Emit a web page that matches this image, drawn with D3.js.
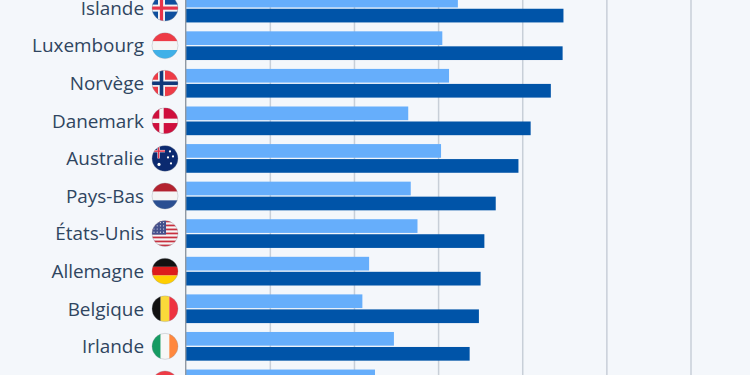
<!DOCTYPE html>
<html><head><meta charset="utf-8">
<script src="https://cdn.jsdelivr.net/npm/d3@7"></script>
<style>html,body{margin:0;padding:0;background:#f4f7fb;overflow:hidden}svg{display:block}</style>
</head><body><svg id="c" width="750" height="375"></svg>
<script>
const countries=["Islande","Luxembourg","Norvège","Danemark","Australie","Pays-Bas","États-Unis","Allemagne","Belgique","Irlande","Autriche"];
const flags=["is","lu","no","dk","au","nl","us","de","be","ie","at"];
const lightValues=[32.35,30.5,31.3,26.45,30.35,26.75,27.55,21.8,21.0,24.75,22.5];
const darkValues=[44.9,44.8,43.4,41.0,39.55,36.85,35.5,35.05,34.85,33.75,33.0];
const gridTicks=[10,20,30,40,50,60];
const W=750,H=375;
const svg=d3.select("#c");
const x=d3.scaleLinear().domain([0,60]).range([185.7,690.5]);
const step=37.58,first=8.1;
const y=d3.scaleBand().domain(countries).range([first-step/2,first+step*(countries.length-.5)]).paddingInner(0).paddingOuter(0);
const inner=d3.scaleBand().domain(["light","dark"]).range([0,step]).paddingInner(0.087).paddingOuter(0.296);

const grid=svg.append("g").call(d3.axisBottom(x).tickValues(gridTicks).tickSize(H+20).tickFormat(""));
grid.select(".domain").remove();
grid.attr("transform","translate(0,-10)").selectAll("line").attr("stroke","#c8cfd8").attr("stroke-width",1.5);

const rows=svg.selectAll("g.row").data(countries).join("g").attr("class","row").attr("transform",d=>`translate(0,${y(d)})`);
rows.append("rect").attr("x",x(0)).attr("y",inner("light")).attr("height",inner.bandwidth()).attr("width",(d,i)=>x(lightValues[i])-x(0)).attr("fill","#66aefb");
rows.append("rect").attr("x",x(0)).attr("y",inner("dark")).attr("height",inner.bandwidth()).attr("width",(d,i)=>x(darkValues[i])-x(0)).attr("fill","#0054a8");

svg.append("line").attr("x1",x(0)).attr("x2",x(0)).attr("y1",0).attr("y2",H).attr("stroke","#8f98a3").attr("stroke-width",1.4);

// The last row sits below the picture's edge: only its flag top and bar show, not its label.
rows.filter((d,i)=>i<countries.length-1).append("text").text(d=>d).attr("x",144).attr("y",step/2).attr("dy","0.36em").attr("text-anchor","end")
 .attr("font-family","'Open Sans'").attr("font-size",18.9).attr("fill","#2f4560");

const R=13;
function r(g,a,b,c,d,f){g.append("rect").attr("x",a).attr("y",b).attr("width",c).attr("height",d).attr("fill",f);}
function hb(g,cols){const n=cols.length;cols.forEach((c,i)=>r(g,-R,-R+i*2*R/n,2*R,2*R/n,c));}
function vb(g,cols){const n=cols.length;cols.forEach((c,i)=>r(g,-R+i*2*R/n,-R,2*R/n,2*R,c));}
function cross(g,bg,out,inn,ow,iw,cx){r(g,-R,-R,2*R,2*R,bg);
 r(g,cx-ow/2,-R,ow,2*R,out);r(g,-R,-ow/2,2*R,ow,out);
 if(inn){r(g,cx-iw/2,-R,iw,2*R,inn);r(g,-R,-iw/2,2*R,iw,inn);}}
const draw={
 is:g=>cross(g,"#0f4f9e","#f2f4f6","#e8344a",7,3.2,-3.5),
 lu:g=>hb(g,["#ee3b46","#f5f5f5","#3fb0e8"]),
 no:g=>cross(g,"#ee3b46","#f2f4f6","#10397a",7,3.6,-3.5),
 dk:g=>cross(g,"#cf0f3c","#f5f5f5",null,4.4,0,-3.5),
 au:g=>{r(g,-R,-R,2*R,2*R,"#0b2a70");
   r(g,-13,-8.5,13,2.4,"#f4f4f4");r(g,-7.6,-13,2.4,13,"#f4f4f4");
   r(g,-13,-8,13,1.4,"#e0304a");r(g,-7.1,-13,1.4,13,"#e0304a");
   [[-6,6,1.6],[5,-7,1.1],[8,-2,1.1],[3,-1,1.1],[6,5,1.1]].forEach(s=>g.append("circle").attr("cx",s[0]).attr("cy",s[1]).attr("r",s[2]).attr("fill","#fff"));},
 nl:g=>hb(g,["#b3222f","#f5f5f5","#2a4f92"]),
 us:g=>{const n=13;for(let i=0;i<n;i++)r(g,-R,-R+i*2*R/n,2*R,2*R/n,i%2?"#f5f5f5":"#c8303f");
   r(g,-R,-R,R+1,14,"#44508c");
   for(let a=0;a<4;a++)for(let b=0;b<4;b++)g.append("circle").attr("cx",-11+b*3.2).attr("cy",-11+a*3.2).attr("r",.6).attr("fill","#e8e8ee");},
 de:g=>hb(g,["#111111","#dd1c1c","#ffce00"]),
 be:g=>vb(g,["#111111","#fad93a","#ee3340"]),
 ie:g=>vb(g,["#169b62","#f7f7f7","#ff883e"]),
 at:g=>hb(g,["#ee3b46","#f5f5f5","#ee3b46"])
};
const defs=svg.append("defs");
defs.append("clipPath").attr("id","fc").append("circle").attr("r",R);
rows.each(function(d,i){
 const g=d3.select(this).append("g").attr("transform",`translate(165,${step/2})`);
 const inn=g.append("g").attr("clip-path","url(#fc)");
 draw[flags[i]](inn);
 g.append("circle").attr("r",R).attr("fill","none").attr("stroke","#8d949c").attr("stroke-opacity",.45).attr("stroke-width",.7);
});
</script></body></html>
